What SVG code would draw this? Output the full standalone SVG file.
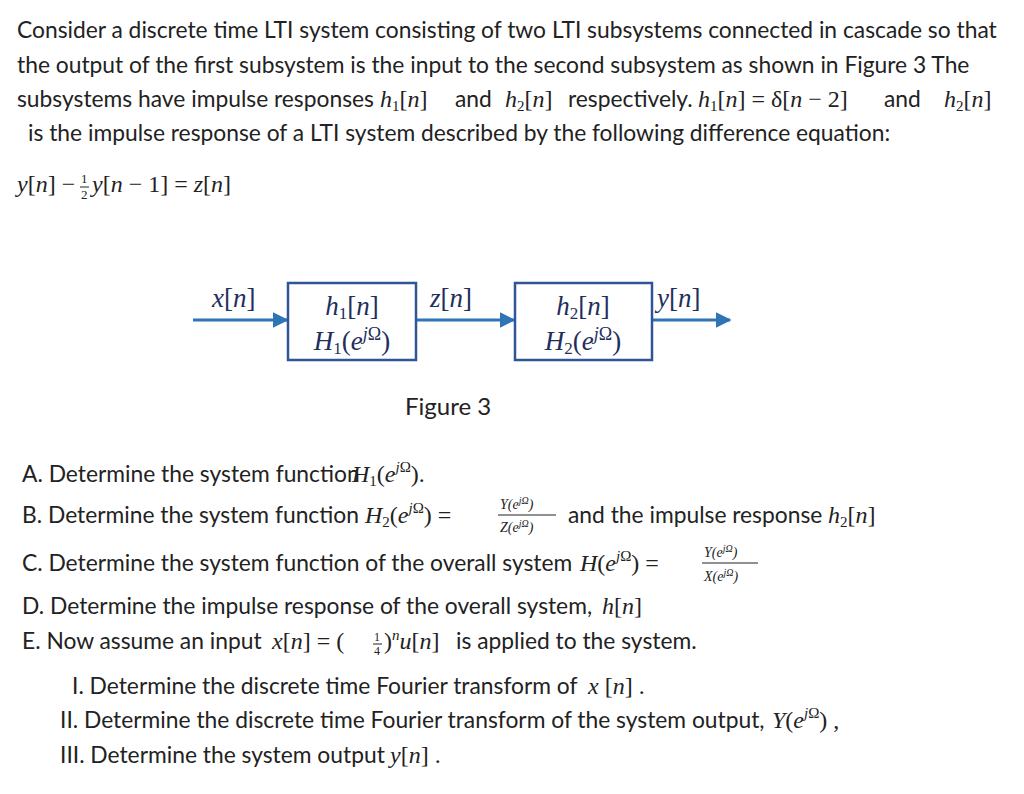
<svg xmlns="http://www.w3.org/2000/svg" width="1024" height="794" viewBox="0 0 1024 794">
<style>
.t{font-family:Lato,"Open Sans",sans-serif;font-size:22.8px;fill:#222}
.i{font-family:"Liberation Serif",serif;font-style:italic;fill:#222}
.u{font-family:"Liberation Serif",serif;font-style:normal}
.m{font-size:24px}
.sb{font-size:15px}
.sp{font-size:15px}
.fr{font-family:"Liberation Serif",serif;font-style:italic;font-size:14px;fill:#222}
.fs{font-size:10px}
.d{font-family:"Liberation Serif",serif;font-style:italic;font-size:27px;fill:#1f2f5c}
.box{fill:#fff;stroke:#2f5597;stroke-width:2.5}
.w{stroke:#2e75b6;stroke-width:3;fill:none}
.bar{stroke:#222;stroke-width:1}
</style>
<defs>
<marker id="b" viewBox="0 0 10 10" refX="9" refY="5" markerWidth="16" markerHeight="16" orient="auto" markerUnits="userSpaceOnUse"><path d="M0,0L10,5L0,10z" fill="#2e75b6"/></marker></defs>
<g id="text">
<text class="t" x="17" y="38">Consider a discrete time LTI system consisting of two LTI subsystems connected in cascade so that</text>
<text class="t" x="17" y="73">the output of the first subsystem is the input to the second subsystem as shown in Figure 3   The</text>
<text class="t" x="17" y="107">subsystems have impulse responses</text>
<text class="i m" x="380" y="107">h<tspan class="u sb" dy="4">1</tspan><tspan class="u" dy="-4">[</tspan>n<tspan class="u">]</tspan></text>
<text class="t" x="455" y="107">and</text>
<text class="i m" x="505" y="107">h<tspan class="u sb" dy="4">2</tspan><tspan class="u" dy="-4">[</tspan>n<tspan class="u">]</tspan></text>
<text class="t" x="568" y="107">respectively.</text>
<text class="i m" x="698" y="107">h<tspan class="u sb" dy="4">1</tspan><tspan class="u" dy="-4">[</tspan>n<tspan class="u">] = δ[</tspan>n<tspan class="u"> − 2]</tspan></text>
<text class="t" x="884" y="107">and</text>
<text class="i m" x="944" y="107">h<tspan class="u sb" dy="4">2</tspan><tspan class="u" dy="-4">[</tspan>n<tspan class="u">]</tspan></text>
<text class="t" x="28" y="141">is the impulse response of a LTI system described by the following difference equation:</text>
<text class="i m" x="17" y="192">y<tspan class="u">[</tspan>n<tspan class="u">] − </tspan></text>
<text class="i u" x="81" y="183" style="font-size:13px">1</text>
<line class="bar" x1="80" y1="187" x2="89" y2="187"/>
<text class="i u" x="81" y="199" style="font-size:13px">2</text>
<text class="i m" x="92" y="192">y<tspan class="u">[</tspan>n<tspan class="u"> − 1] = </tspan>z<tspan class="u">[</tspan>n<tspan class="u">]</tspan></text>
<text class="t" x="405" y="415" style="font-size:24px">Figure 3</text>
<text class="t" x="22" y="482">A. Determine the system function</text>
<text class="i m" x="352" y="482">H<tspan class="u sb" dy="4">1</tspan><tspan class="u" dy="-4">(</tspan>e<tspan class="sp" dy="-10">j</tspan><tspan class="u sp">Ω</tspan><tspan class="u" dy="10">).</tspan></text>
<text class="t" x="22" y="523">B. Determine the system function</text>
<text class="i m" x="365" y="523">H<tspan class="u sb" dy="4">2</tspan><tspan class="u" dy="-4">(</tspan>e<tspan class="sp" dy="-10">j</tspan><tspan class="u sp">Ω</tspan><tspan class="u" dy="10">) =</tspan></text>
<text class="fr" x="500" y="509">Y(e<tspan class="fs" dy="-5">jΩ</tspan><tspan dy="5">)</tspan></text>
<line class="bar" x1="498" y1="515" x2="556" y2="515"/>
<text class="fr" x="500" y="532">Z(e<tspan class="fs" dy="-5">jΩ</tspan><tspan dy="5">)</tspan></text>
<text class="t" x="568" y="523">and the impulse response</text>
<text class="i m" x="828" y="523">h<tspan class="u sb" dy="4">2</tspan><tspan class="u" dy="-4">[</tspan>n<tspan class="u">]</tspan></text>
<text class="t" x="22" y="571">C. Determine the system function of the overall system</text>
<text class="i m" x="580" y="571">H<tspan class="u">(</tspan>e<tspan class="sp" dy="-10">j</tspan><tspan class="u sp">Ω</tspan><tspan class="u" dy="10">) =</tspan></text>
<text class="fr" x="704" y="557">Y(e<tspan class="fs" dy="-5">jΩ</tspan><tspan dy="5">)</tspan></text>
<line class="bar" x1="702" y1="563" x2="758" y2="563"/>
<text class="fr" x="704" y="581">X(e<tspan class="fs" dy="-5">jΩ</tspan><tspan dy="5">)</tspan></text>
<text class="t" x="22" y="614">D. Determine the impulse response of the overall system,</text>
<text class="i m" x="602" y="614">h<tspan class="u">[</tspan>n<tspan class="u">]</tspan></text>
<text class="t" x="22" y="649">E. Now assume an input</text>
<text class="i m" x="272" y="649">x<tspan class="u">[</tspan>n<tspan class="u">] = (</tspan></text>
<text class="i u" x="374" y="641" style="font-size:12px">1</text>
<line class="bar" x1="373" y1="644" x2="382" y2="644"/>
<text class="i u" x="374" y="655" style="font-size:12px">4</text>
<text class="i m" x="384" y="649"><tspan class="u">)</tspan><tspan class="sp" dy="-9">n</tspan><tspan dy="9">u</tspan><tspan class="u">[</tspan>n<tspan class="u">]</tspan></text>
<text class="t" x="456" y="649">is applied to the system.</text>
<text class="t" x="72" y="694">I. Determine the discrete time Fourier transform of</text>
<text class="i m" x="588" y="694">x<tspan class="u"> [</tspan>n<tspan class="u">] .</tspan></text>
<text class="t" x="60" y="728">II. Determine  the discrete time Fourier transform of the system output,</text>
<text class="i m" x="772" y="728">Y<tspan class="u">(</tspan>e<tspan class="sp" dy="-10">j</tspan><tspan class="u sp">Ω</tspan><tspan class="u" dy="10">) ,</tspan></text>
<text class="t" x="60" y="763">III. Determine the system output</text>
<text class="i m" x="390" y="763">y<tspan class="u">[</tspan>n<tspan class="u">]  .</tspan></text>
</g>
<g id="connectors">
<line class="w" x1="193" y1="320" x2="287" y2="320" marker-end="url(#b)"/>
<line class="w" x1="417" y1="320" x2="514" y2="320" marker-end="url(#b)"/>
<line class="w" x1="653" y1="320" x2="730" y2="320" marker-end="url(#b)"/>
</g>
<g id="labels">
<text class="d" x="212" y="307">x<tspan class="u">[</tspan>n<tspan class="u">]</tspan></text>
<text class="d" x="430" y="307">z<tspan class="u">[</tspan>n<tspan class="u">]</tspan></text>
<text class="d" x="657" y="307">y<tspan class="u">[</tspan>n<tspan class="u">]</tspan></text>
</g>
<g id="h1">
<rect class="box" x="288" y="283" width="128" height="77"/>
<text class="d" x="352" y="315" text-anchor="middle">h<tspan class="u" style="font-size:17px" dy="4">1</tspan><tspan class="u" dy="-4">[</tspan>n<tspan class="u">]</tspan></text>
<text class="d" x="352" y="350" text-anchor="middle">H<tspan class="u" style="font-size:17px" dy="4">1</tspan><tspan class="u" dy="-4">(</tspan>e<tspan style="font-size:18px" dy="-10">j</tspan><tspan class="u" style="font-size:18px">Ω</tspan><tspan class="u" dy="10">)</tspan></text>
</g>
<g id="h2">
<rect class="box" x="515" y="283" width="137" height="77"/>
<text class="d" x="583" y="315" text-anchor="middle">h<tspan class="u" style="font-size:17px" dy="4">2</tspan><tspan class="u" dy="-4">[</tspan>n<tspan class="u">]</tspan></text>
<text class="d" x="583" y="350" text-anchor="middle">H<tspan class="u" style="font-size:17px" dy="4">2</tspan><tspan class="u" dy="-4">(</tspan>e<tspan style="font-size:18px" dy="-10">j</tspan><tspan class="u" style="font-size:18px">Ω</tspan><tspan class="u" dy="10">)</tspan></text>
</g>
</svg>
